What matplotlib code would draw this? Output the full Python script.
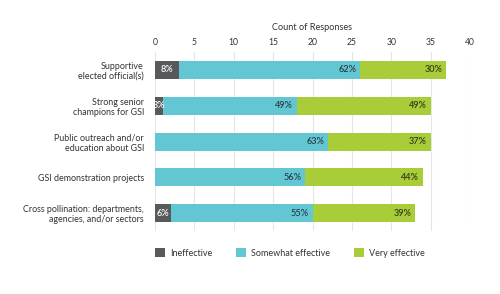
import matplotlib
matplotlib.use("Agg")
import matplotlib.pyplot as plt
import numpy as np

plt.rcParams['font.family'] = ['Lato', 'DejaVu Sans']

categories = ["Supportive\nelected official(s)",
              "Strong senior\nchampions for GSI",
              "Public outreach and/or\neducation about GSI",
              "GSI demonstration projects",
              "Cross pollination: departments,\nagencies, and/or sectors"]
series_names = ["Ineffective", "Somewhat effective", "Very effective"]
ineffective = [3, 1, 0, 0, 2]
somewhat = [23, 17, 22, 19, 18]
very = [11, 17, 13, 15, 13]
pct_ineffective = ["8%", "3%", "", "", "6%"]
pct_somewhat = ["62%", "49%", "63%", "56%", "55%"]
pct_very = ["30%", "49%", "37%", "44%", "39%"]
xticks = [0, 5, 10, 15, 20, 25, 30, 35, 40]

colors = ["#58595b", "#63c6d3", "#a9cd38"]

fig = plt.figure(figsize=(5, 2.94), dpi=100)
ax = fig.add_axes([0.31, 0.214, 0.63, 0.609])

y = np.arange(len(categories))
ine = np.array(ineffective)
som = np.array(somewhat)
ver = np.array(very)
h = 0.5
ax.barh(y, ine, height=h, color=colors[0], label=series_names[0], zorder=3)
ax.barh(y, som, left=ine, height=h, color=colors[1], label=series_names[1], zorder=3)
ax.barh(y, ver, left=ine + som, height=h, color=colors[2], label=series_names[2], zorder=3)

fs = 6.6
for i in range(len(categories)):
    if pct_ineffective[i]:
        ax.text(ine[i] / 2, y[i], pct_ineffective[i], ha='center', va='center',
                color='white', fontsize=fs, fontweight='semibold', zorder=4)
    ax.text(ine[i] + som[i] - 0.45, y[i], pct_somewhat[i], ha='right', va='center',
            color='#2a3f47', fontsize=fs, fontweight='semibold', zorder=4)
    ax.text(ine[i] + som[i] + ver[i] - 0.45, y[i], pct_very[i], ha='right', va='center',
            color='#333a1c', fontsize=fs, fontweight='semibold', zorder=4)

ax.set_xlim(0, 40)
ax.set_ylim(len(categories) - 0.5, -0.5)
ax.set_xticks(xticks)
ax.set_yticks(y)
ax.set_yticklabels(categories, fontsize=6.4, color='#333333', linespacing=1.15)
ax.xaxis.tick_top()
ax.xaxis.set_label_position('top')
ax.set_xlabel("Count of Responses", fontsize=6.6, color='#333333', labelpad=6)
ax.tick_params(axis='x', length=0, pad=3.5, labelsize=6.2, labelcolor='#333333')
ax.tick_params(axis='y', length=0, pad=8)
ax.grid(axis='x', color='#e6e6e6', linewidth=0.8, zorder=0)
for s in ax.spines.values():
    s.set_visible(False)

leg = ax.legend(loc='upper left', bbox_to_anchor=(0.0, -0.095), ncol=3, frameon=False,
                fontsize=6.5, handlelength=1.15, handleheight=1.15, handletextpad=0.55,
                columnspacing=2.6, borderaxespad=0, borderpad=0)
for t in leg.get_texts():
    t.set_color('#333333')

fig.savefig("out.png", dpi=100)
